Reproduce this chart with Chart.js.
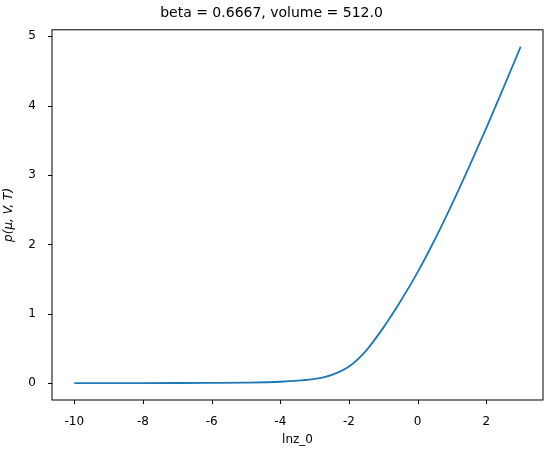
<!DOCTYPE html>
<html>
<head>
<script src="https://cdn.jsdelivr.net/npm/chart.js@4"></script>
<style>
body { margin: 0; background: #fff; }
#wrap { width: 558px; height: 453px; }
</style>
</head>
<body>
<div id="wrap"><canvas id="c"></canvas></div>
<script>
const lnz = [-10, -9, -8, -7, -6, -5, -4, -3.5, -3, -2.5, -2, -1.5, -1, -0.5, 0, 0.5, 1, 1.5, 2, 2.5, 3];
const pressure = [0.0, 0.0005, 0.001, 0.002, 0.004, 0.008, 0.02, 0.035, 0.06, 0.12, 0.24, 0.47, 0.8, 1.18, 1.6, 2.07, 2.58, 3.12, 3.68, 4.26, 4.85];
const xTicks = [-10, -8, -6, -4, -2, 0, 2];
const yTicks = [0, 1, 2, 3, 4, 5];

const font = { family: 'DejaVu Sans', size: 12 };

// matplotlib style box + outward tick marks
const frame = {
    id: 'frame',
    afterDraw(chart) {
        const a = chart.chartArea, ctx = chart.ctx;
        const xs = chart.scales.x, ys = chart.scales.y;
        ctx.save();
        ctx.strokeStyle = '#000';
        ctx.lineWidth = 1;
        ctx.strokeRect(a.left, a.top, a.right - a.left, a.bottom - a.top);
        ctx.beginPath();
        xTicks.forEach(v => {
            const px = Math.round(xs.getPixelForValue(v)) + 0.5;
            ctx.moveTo(px, a.bottom); ctx.lineTo(px, a.bottom + 4);
        });
        yTicks.forEach(v => {
            const py = Math.round(ys.getPixelForValue(v)) + 0.5;
            ctx.moveTo(a.left, py); ctx.lineTo(a.left - 4, py);
        });
        ctx.stroke();
        ctx.restore();
    }
};

const data = {
    datasets: [{
        data: lnz.map((x, i) => ({ x: x, y: pressure[i] })),
        borderColor: '#1f77b4',
        borderWidth: 1.8,
        pointRadius: 0,
        cubicInterpolationMode: 'monotone'
    }]
};

new Chart(document.getElementById('c'), {
    type: 'line',
    data: data,
    plugins: [frame],
    options: {
        responsive: true,
        maintainAspectRatio: false,
        animation: false,
        layout: { padding: { right: 15, left: 0, top: 0, bottom: 0 } },
        plugins: {
            legend: { display: false },
            tooltip: { enabled: false },
            title: {
                display: true,
                text: 'beta = 0.6667, volume = 512.0',
                color: '#000',
                font: { family: 'DejaVu Sans', size: 14, weight: 'normal' },
                padding: { top: 5, bottom: 8 }
            }
        },
        scales: {
            x: {
                type: 'linear',
                min: -10.65, max: 3.65,
                afterBuildTicks: s => { s.ticks = xTicks.map(v => ({ value: v })); },
                afterFit: s => { s.height = 53; },
                grid: { display: false },
                border: { display: false },
                ticks: { color: '#000', font: font, padding: 7 },
                title: { display: true, text: 'lnz_0', color: '#000', font: font, padding: { top: 0, bottom: 6 } }
            },
            y: {
                min: -0.243, max: 5.093,
                afterBuildTicks: s => { s.ticks = yTicks.map(v => ({ value: v })); },
                afterFit: s => { s.width = 52; },
                grid: { display: false },
                border: { display: false },
                ticks: { color: '#000', font: font, padding: 8 },
                title: { display: true, text: 'p(μ, V, T)', color: '#000', font: { family: 'DejaVu Sans', size: 12, style: 'italic' }, padding: 2 }
            }
        }
    }
});
</script>
</body>
</html>
